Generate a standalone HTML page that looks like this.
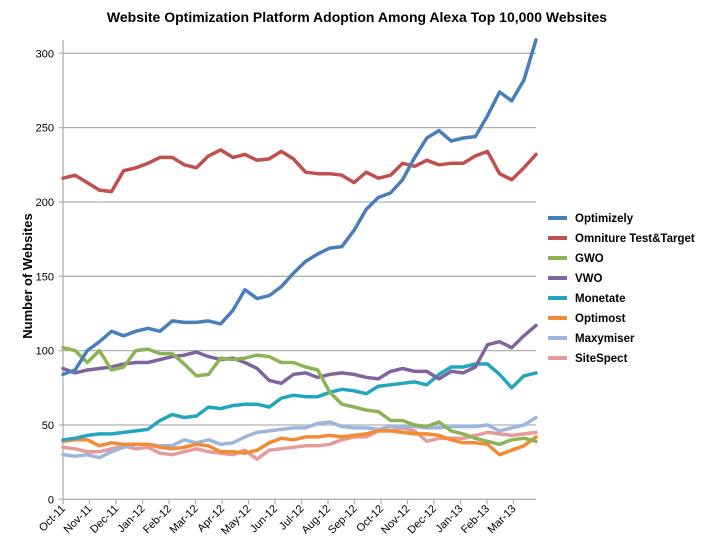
<!DOCTYPE html>
<html><head><meta charset="utf-8"><style>
html,body{margin:0;padding:0;background:#fff;}
svg{display:block;font-family:"Liberation Sans",sans-serif;}
</style></head><body>
<svg id="chart" width="714" height="545" viewBox="0 0 714 545"></svg>
<script>
const months=["Oct-11","Nov-11","Dec-11","Jan-12","Feb-12","Mar-12","Apr-12","May-12","Jun-12","Jul-12","Aug-12","Sep-12","Oct-12","Nov-12","Dec-12","Jan-13","Feb-13","Mar-13"];
const yTicks=[0,50,100,150,200,250,300];
const seriesNames=["Optimizely","Omniture Test&Target","GWO","VWO","Monetate","Optimost","Maxymiser","SiteSpect"];
const colors=["#4a7ebb","#c0504d","#8db356","#8064a2","#25a5bd","#f38b35","#9cb6dd","#e69b9a"];
const optimizely=[84,87,100,106,113,110,113,115,113,120,119,119,120,118,127,141,135,137,143,152,160,165,169,170,181,195,203,206,215,230,243,248,241,243,244,258,274,268,282,309];
const omniture=[216,218,213,208,207,221,223,226,230,230,225,223,231,235,230,232,228,229,234,229,220,219,219,218,213,220,216,218,226,224,228,225,226,226,231,234,219,215,223,232];
const gwo=[102,100,92,100,87,89,100,101,98,98,91,83,84,95,94,95,97,96,92,92,89,87,72,64,62,60,59,53,53,50,49,52,46,44,41,39,37,40,41,39];
const vwo=[88,85,87,88,89,91,92,92,94,96,97,99,96,94,95,92,88,80,78,84,85,82,84,85,84,82,81,86,88,86,86,81,86,85,89,104,106,102,110,117];
const monetate=[40,41,43,44,44,45,46,47,53,57,55,56,62,61,63,64,64,62,68,70,69,69,72,74,73,71,76,77,78,79,77,84,89,89,91,91,84,75,83,85];
const optimost=[39,40,40,36,38,37,37,37,35,34,35,37,36,32,32,31,33,38,41,40,42,42,43,42,43,44,46,46,45,44,44,43,40,38,38,37,30,33,36,42];
const maxymiser=[30,29,30,28,32,35,37,37,36,36,40,38,40,37,38,42,45,46,47,48,48,51,52,49,48,48,47,49,49,49,48,48,49,49,49,50,46,48,50,55];
const sitespect=[35,34,32,32,34,36,34,35,31,30,32,34,32,31,30,33,27,33,34,35,36,36,37,40,42,42,46,46,48,46,39,41,41,41,43,45,44,43,44,45];
const allSeries=[optimizely,omniture,gwo,vwo,monetate,optimost,maxymiser,sitespect];

const NS="http://www.w3.org/2000/svg";
const svg=document.getElementById('chart');
const X0=63,X1=536,Y0=499.3,Y300=53.3,MW=26.5;
const yScale=v=>Y0-(v/300)*(Y0-Y300);
const xIdx=(i,n)=>X0+i*(X1-X0)/(n-1);
const xMonth=m=>X0+m*MW;
function mk(tag,attrs){const e=document.createElementNS(NS,tag);for(const k in attrs)e.setAttribute(k,attrs[k]);svg.appendChild(e);return e;}

const title=mk('text',{x:357,y:22,'text-anchor':'middle','font-size':14,'font-weight':'bold',fill:'#000'});
title.textContent="Website Optimization Platform Adoption Among Alexa Top 10,000 Websites";



yTicks.forEach(t=>{
  const y=yScale(t);
  if(t>0){const g=mk('line',{x1:X0,x2:X1,y1:y,y2:y,stroke:'#b0b0b0','stroke-width':1.3});
  
  }
  const tk=mk('line',{x1:X0-4,x2:X0,y1:y,y2:y,stroke:'#b0b0b0','stroke-width':1.3});
  
  
  const l=mk('text',{x:X0-9,y:y+4,'text-anchor':'end','font-size':11,fill:'#000'});
  l.textContent=t;
  
  
});
const ya=mk('line',{x1:X0,x2:X0,y1:40,y2:Y0,stroke:'#b0b0b0','stroke-width':1.3});


const xa=mk('line',{x1:X0,x2:X1,y1:Y0,y2:Y0,stroke:'#b0b0b0','stroke-width':1.3});



months.forEach((m,i)=>{
  const x=xMonth(i);
  const tk=mk('line',{x1:x,x2:x,y1:Y0,y2:Y0+5,stroke:'#b0b0b0','stroke-width':1.3});
  
  
  const l=mk('text',{x:x+3,y:Y0+10,'text-anchor':'end','font-size':11,fill:'#000',transform:`rotate(-45 ${x+3} ${Y0+10})`});
  l.textContent=m;
  
  
});

const yt=mk('text',{x:0,y:0,'text-anchor':'middle','font-size':13,'font-weight':'bold',fill:'#000',transform:'translate(32 276) rotate(-90)'});
yt.textContent="Number of Websites";



for(let s=allSeries.length-1;s>=0;s--){
  const d=allSeries[s];
  const pts=d.map((v,i)=>xIdx(i,d.length).toFixed(1)+','+yScale(v).toFixed(1)).join(' ');
  const p=mk('polyline',{points:pts,fill:'none',stroke:colors[s],'stroke-width':3.5,'stroke-linejoin':'round','stroke-linecap':'round'});
  
  
}

seriesNames.forEach((n,i)=>{
  const y=218+i*20;
  const ln=mk('line',{x1:548,x2:567,y1:y,y2:y,stroke:colors[i],'stroke-width':4});
  
  
  const t=mk('text',{x:575,y:y+4,'font-size':11.5,'font-weight':'bold',fill:'#000'});
  t.textContent=n;
  
  
});
</script>
</body></html>
